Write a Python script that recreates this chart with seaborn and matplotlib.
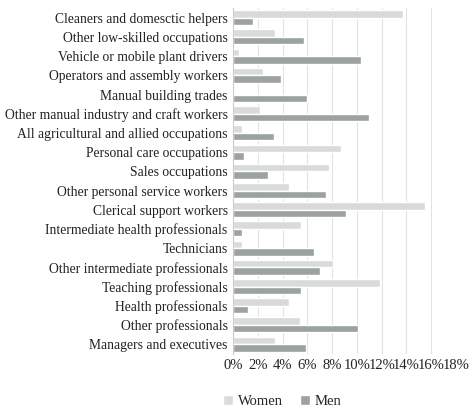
import matplotlib
matplotlib.use("Agg")
import matplotlib.pyplot as plt
import seaborn as sns
import pandas as pd
from matplotlib.ticker import FuncFormatter

categories = ["Cleaners and domesctic helpers","Other low-skilled occupations","Vehicle or mobile plant drivers",
"Operators and assembly workers","Manual building trades","Other manual industry and craft workers",
"All agricultural and allied occupations","Personal care occupations","Sales occupations",
"Other personal service workers","Clerical support workers","Intermediate health professionals",
"Technicians","Other intermediate professionals","Teaching professionals","Health professionals",
"Other professionals","Managers and executives"]
women = [13.7,3.4,0.5,2.4,0.0,2.2,0.7,8.7,7.7,4.5,15.5,5.5,0.7,8.1,11.9,4.5,5.4,3.4]
men = [1.6,5.7,10.3,3.9,6.0,11.0,3.3,0.9,2.8,7.5,9.1,0.7,6.5,7.0,5.5,1.2,10.1,5.9]

df = pd.DataFrame({"cat": categories*2, "val": women+men, "sex": ["Women"]*18+["Men"]*18})

sns.set_style("white")
plt.rcParams['font.family'] = ['Liberation Serif', 'DejaVu Serif']
fig = plt.figure(figsize=(4.74,4.09), dpi=100)
ax = fig.add_axes([0.492, 0.135, 0.47, 0.845])
sns.barplot(data=df, y="cat", x="val", hue="sex", palette={"Women":"#d9dbd9","Men":"#9aa3a0"},
            width=0.78, ax=ax, orient="h")
ax.set_xlim(0,18)
ax.set_xticks(range(0,19,2))
ax.xaxis.set_major_formatter(FuncFormatter(lambda v,p: f"{int(v)}%"))
ax.grid(axis="x", color="#e3e3e3", lw=0.8)
ax.set_axisbelow(True)
for s in ["top","right","bottom"]:
    ax.spines[s].set_visible(False)
ax.spines["left"].set_color("#cccccc")
ax.set_xlabel(""); ax.set_ylabel("")
ax.tick_params(axis="y", labelsize=9.8, length=0, colors="#222222", pad=4)
ax.tick_params(axis="x", labelsize=10.5, length=0, colors="#222222")
ax.legend(loc="upper center", bbox_to_anchor=(0.22, -0.08), ncol=2, frameon=False, fontsize=10.5,
          handlelength=0.7, handleheight=0.7, columnspacing=1.2, handletextpad=0.3)
fig.savefig("out.png", dpi=100)
